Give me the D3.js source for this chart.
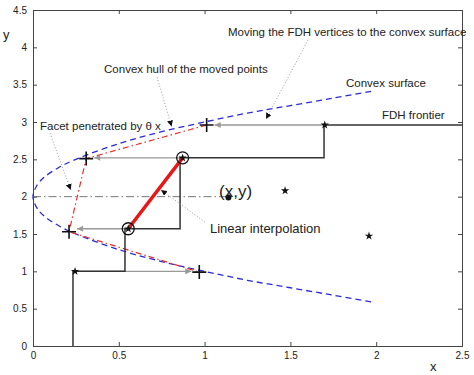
<!DOCTYPE html>
<html>
<head>
<meta charset="utf-8">
<script src="https://cdnjs.cloudflare.com/ajax/libs/d3/7.8.5/d3.min.js"></script>
<style>
	body { margin: 0; background: #fff; }
	text { font-family: "Liberation Sans", Arial, sans-serif; fill: #222; }
</style>
</head>
<body>
<script>
	var xTicks = [0, 0.5, 1, 1.5, 2, 2.5];
	var yTicks = [0, 0.5, 1, 1.5, 2, 2.5, 3, 3.5, 4, 4.5];

	// FDH staircase frontier
	var fdhFrontier = [[0.233, 0], [0.233, 1.0], [0.536, 1.0], [0.536, 1.57], [0.857, 1.57],
		[0.857, 2.52], [1.696, 2.52], [1.696, 2.96], [2.5, 2.96]];
	// observed units (stars)
	var fdhPoints = [[0.245, 1.0], [0.555, 1.57], [0.872, 2.52], [1.70, 2.96], [1.469, 2.08], [1.958, 1.473]];
	// the two vertices used for the interpolation
	var interpPoints = [[0.555, 1.57], [0.872, 2.52]];
	// FDH vertices moved to the convex surface (+)
	var moveFrom = [[1.70, 2.96], [0.872, 2.52], [0.555, 1.57], [0.245, 1.0]];
	var movedPoints = [[1.012, 2.96], [0.31, 2.51], [0.21, 1.53], [0.969, 0.99]];
	// convex surface, both branches
	var convexUpper = [[0, 2], [0.02, 2.14], [0.06, 2.25], [0.15, 2.39], [0.25, 2.5], [0.5, 2.71],
		[0.75, 2.87], [1, 3.0], [1.25, 3.12], [1.5, 3.22], [1.75, 3.32], [1.97, 3.41]];
	var convexLower = [[0, 2], [0.02, 1.86], [0.06, 1.75], [0.15, 1.61], [0.25, 1.5], [0.5, 1.29],
		[0.75, 1.13], [1, 1.0], [1.25, 0.88], [1.5, 0.78], [1.75, 0.68], [1.97, 0.59]];
	var evalPoint = [1.139, 1.99];
	var rayLine = [[0, 2], [1.139, 2]];

	// annotation labels: text, anchor point, arrow from, arrow to (data units)
	var notes = [
		{text: "Moving the FDH vertices to the convex surface", at: [1.136, 4.15], from: [1.603, 4.10], to: [1.358, 3.04]},
		{text: "Convex hull of the moved points", at: [0.414, 3.656], from: [0.723, 3.60], to: [0.808, 2.94]},
		{text: "Facet penetrated by \u03b8 x", at: [0.041, 2.893], from: [0.099, 2.85], to: [0.22, 2.09]},
		{text: "Linear interpolation", at: [1.031, 1.513], from: [1.002, 1.66], to: [0.746, 2.09]},
		{text: "Convex surface", at: [1.824, 3.47]},
		{text: "FDH frontier", at: [2.034, 3.04]}
	];

	drawChart();

	function drawChart() {
		var width = 474,
			height = 375;

		var x = d3.scaleLinear().domain([0, 2.5]).range([33, 462]);
		var y = d3.scaleLinear().domain([0, 4.5]).range([346, 10]);

		var svg = d3.select("body").append("svg")
			.attr("width", width)
			.attr("height", height);

		var defs = svg.append("defs");
		defs.append("marker")
			.attr("id", "blackHead")
			.attr("viewBox", "0 0 10 10")
			.attr("refX", 10).attr("refY", 5)
			.attr("markerWidth", 6).attr("markerHeight", 6)
			.attr("markerUnits", "userSpaceOnUse")
			.attr("orient", "auto")
			.append("path").attr("d", "M0,0L10,5L0,10Z").attr("fill", "#111");
		defs.append("marker")
			.attr("id", "grayHead")
			.attr("viewBox", "0 0 10 10")
			.attr("refX", 10).attr("refY", 5)
			.attr("markerWidth", 7).attr("markerHeight", 6)
			.attr("markerUnits", "userSpaceOnUse")
			.attr("orient", "auto")
			.append("path").attr("d", "M0,0L10,5L0,10Z").attr("fill", "#999");

		var line = d3.line()
			.x(function(d) { return x(d[0]); })
			.y(function(d) { return y(d[1]); });

		// axes, ticks pointing inside
		svg.append("g")
			.attr("transform", "translate(0," + y(0) + ")")
			.call(d3.axisBottom(x).tickValues(xTicks).tickSize(-4).tickPadding(6).tickFormat(d3.format("")));
		svg.append("g")
			.attr("transform", "translate(" + x(0) + ",0)")
			.call(d3.axisLeft(y).tickValues(yTicks).tickSize(-4).tickPadding(6).tickFormat(d3.format("")));
		svg.append("g")
			.attr("transform", "translate(0," + y(4.5) + ")")
			.call(d3.axisTop(x).tickValues(xTicks).tickSize(-4).tickFormat(""));
		svg.append("g")
			.attr("transform", "translate(" + x(2.5) + ",0)")
			.call(d3.axisRight(y).tickValues(yTicks).tickSize(-4).tickFormat(""));
		svg.selectAll(".domain").attr("stroke", "#444");
		svg.selectAll(".tick line").attr("stroke", "#444");
		svg.selectAll(".tick text")
			.attr("font-family", "Liberation Sans, Arial, sans-serif")
			.attr("font-size", 10)
			.attr("fill", "#333");

		svg.append("text").attr("x", 430).attr("y", 371).attr("font-size", 13).text("x");
		svg.append("text").attr("x", 3).attr("y", 39).attr("font-size", 13).text("y");

		// dash-dot ray at y = 2
		svg.append("path")
			.attr("d", line(rayLine))
			.attr("fill", "none")
			.attr("stroke", "#777")
			.attr("stroke-dasharray", "8,3,1.5,3");

		// convex surface
		var surface = convexLower.slice().reverse().concat(convexUpper.slice(1));
		svg.append("path")
			.attr("d", line.curve(d3.curveCatmullRom)(surface))
			.attr("fill", "none")
			.attr("stroke", "#2a2ad8")
			.attr("stroke-width", 1.3)
			.attr("stroke-dasharray", "6,4");
		line.curve(d3.curveLinear);

		// convex hull of the moved points
		svg.append("path")
			.attr("d", line(movedPoints))
			.attr("fill", "none")
			.attr("stroke", "#e83030")
			.attr("stroke-width", 1.2)
			.attr("stroke-dasharray", "6,3,1.5,3");

		// moving the vertices: gray arrows
		moveFrom.forEach(function(p, i) {
			var x0 = x(p[0]), y0 = y(p[1]);
			var x1 = x(movedPoints[i][0]);
			var dir = x1 > x0 ? 1 : -1;
			svg.append("line")
				.attr("x1", x0).attr("y1", y0)
				.attr("x2", x1 - dir * 8).attr("y2", y0)
				.attr("stroke", "#999")
				.attr("stroke-width", 1.3)
				.attr("marker-end", "url(#grayHead)");
		});

		// FDH frontier
		svg.append("path")
			.attr("d", line(fdhFrontier))
			.attr("fill", "none")
			.attr("stroke", "#333")
			.attr("stroke-width", 1.5);

		// linear interpolation
		svg.append("path")
			.attr("d", line(interpPoints))
			.attr("stroke", "#e81818")
			.attr("stroke-width", 3.5);

		svg.selectAll(".ring")
			.data(interpPoints)
			.enter().append("circle")
			.attr("cx", function(d) { return x(d[0]); })
			.attr("cy", function(d) { return y(d[1]); })
			.attr("r", 6)
			.attr("fill", "none")
			.attr("stroke", "#111")
			.attr("stroke-width", 1.3);

		var star = d3.symbol().type(d3.symbolStar).size(22);
		svg.selectAll(".star")
			.data(fdhPoints)
			.enter().append("path")
			.attr("d", star)
			.attr("transform", function(d) { return "translate(" + x(d[0]) + "," + y(d[1]) + ")"; })
			.attr("fill", "#111");

		svg.selectAll(".plus")
			.data(movedPoints)
			.enter().append("path")
			.attr("d", "M-7,0H7M0,-7V7")
			.attr("transform", function(d) { return "translate(" + x(d[0]) + "," + y(d[1]) + ")"; })
			.attr("stroke", "#111")
			.attr("stroke-width", 1.6);

		svg.append("circle")
			.attr("cx", x(evalPoint[0]))
			.attr("cy", y(evalPoint[1]))
			.attr("r", 3)
			.attr("fill", "#111");
		svg.append("text")
			.attr("x", x(1.084))
			.attr("y", y(1.995))
			.attr("font-size", 17)
			.text("(x,y)");

		// annotations
		notes.forEach(function(n) {
			if (n.from) {
				svg.append("line")
					.attr("x1", x(n.from[0])).attr("y1", y(n.from[1]))
					.attr("x2", x(n.to[0])).attr("y2", y(n.to[1]))
					.attr("stroke", "#999")
					.attr("stroke-dasharray", "1,2")
					.attr("marker-end", "url(#blackHead)");
			}
			svg.append("text")
				.attr("x", x(n.at[0]))
				.attr("y", y(n.at[1]))
				.attr("font-size", n.text == "Linear interpolation" ? 13 : 11.5)
				.text(n.text);
		});
	}
</script>
</body>
</html>
